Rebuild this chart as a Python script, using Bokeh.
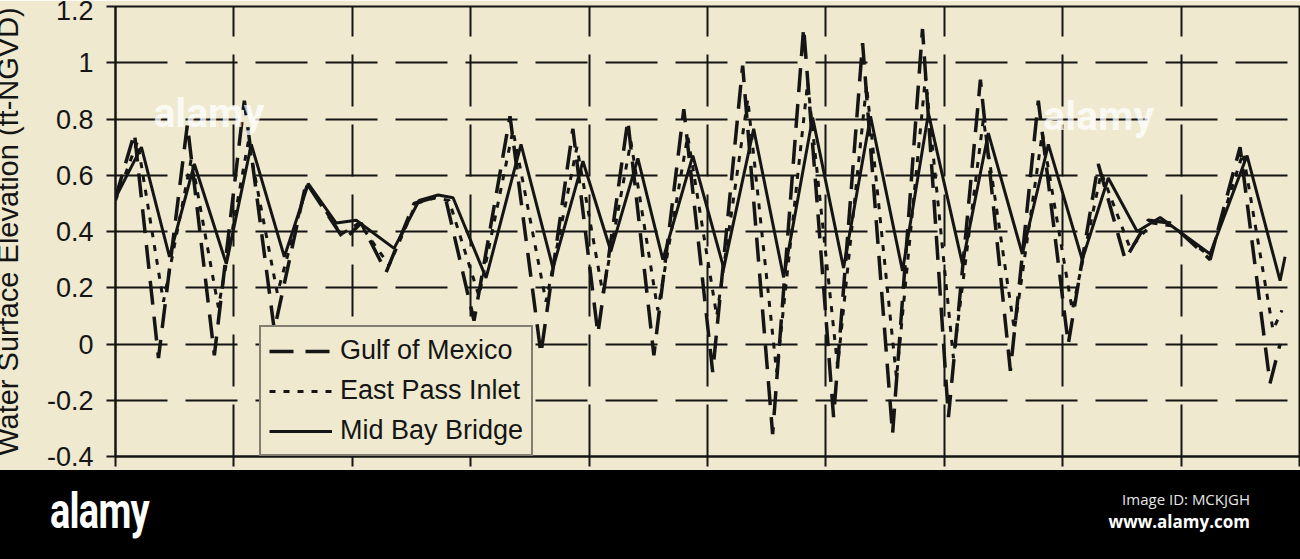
from bokeh.plotting import figure
from bokeh.models import Range1d, FixedTicker, Label, Legend, Div
from bokeh.layouts import column
from bokeh.embed import file_html
from bokeh.resources import INLINE

# ---------------- data (time in days, elevation in ft-NGVD) ----------------
gulf_t = [0.000, 0.160, 0.363, 0.607, 0.835, 1.088, 1.341, 1.611, 1.932, 2.075,
          2.286, 2.522, 2.682, 2.792, 3.028, 3.332, 3.593, 3.863, 4.074, 4.327,
          4.547, 4.800, 5.044, 5.297, 5.550, 5.812, 6.065, 6.310, 6.563, 6.816,
          7.035, 7.305, 7.558, 7.794, 8.047, 8.300, 8.528, 8.722, 8.908, 9.245,
          9.498, 9.751, 9.836]
gulf_v = [0.52, 0.75, -0.05, 0.78, -0.04, 0.865, 0.05, 0.575, 0.37, 0.43,
          0.255, 0.50, 0.52, 0.51, 0.083, 0.81, -0.035, 0.765, 0.037, 0.795,
          -0.04, 0.835, -0.10, 0.99, -0.32, 1.125, -0.26, 1.07, -0.32, 1.12,
          -0.26, 0.94, -0.095, 0.865, 0.0, 0.64, 0.30, 0.44, 0.43, 0.30,
          0.70, -0.14, 0.0]

east_t = [0.000, 0.186, 0.405, 0.641, 0.869, 1.122, 1.367, 1.620, 1.906, 2.058,
          2.311, 2.539, 2.699, 2.817, 3.070, 3.357, 3.636, 3.897, 4.116, 4.353,
          4.580, 4.833, 5.078, 5.340, 5.584, 5.846, 6.099, 6.343, 6.596, 6.841,
          7.077, 7.330, 7.592, 7.828, 8.081, 8.326, 8.570, 8.756, 8.925, 9.245,
          9.523, 9.776, 9.852]
east_v = [0.51, 0.72, 0.15, 0.66, 0.13, 0.72, 0.18, 0.57, 0.39, 0.43,
          0.28, 0.50, 0.52, 0.51, 0.17, 0.76, 0.15, 0.70, 0.18, 0.72,
          0.12, 0.74, 0.10, 0.87, -0.10, 0.93, -0.08, 0.92, -0.12, 0.95,
          -0.05, 0.80, 0.05, 0.75, 0.12, 0.61, 0.34, 0.43, 0.42, 0.31,
          0.68, 0.05, 0.12]

mid_t = [0.000, 0.219, 0.456, 0.666, 0.936, 1.147, 1.426, 1.628, 1.864, 2.033,
         2.353, 2.564, 2.725, 2.851, 3.130, 3.425, 3.695, 3.948, 4.184, 4.412,
         4.623, 4.876, 5.137, 5.390, 5.643, 5.888, 6.149, 6.377, 6.647, 6.866,
         7.153, 7.372, 7.659, 7.879, 8.165, 8.385, 8.629, 8.823, 9.245, 9.557,
         9.836, 9.878]
mid_v = [0.52, 0.70, 0.31, 0.64, 0.285, 0.71, 0.31, 0.57, 0.43, 0.44,
         0.34, 0.51, 0.53, 0.52, 0.235, 0.71, 0.27, 0.65, 0.33, 0.66,
         0.30, 0.67, 0.27, 0.765, 0.237, 0.805, 0.27, 0.81, 0.26, 0.82,
         0.285, 0.75, 0.32, 0.71, 0.30, 0.59, 0.40, 0.45, 0.32, 0.67,
         0.225, 0.31]

series_names = ["Gulf of Mexico", "East Pass Inlet", "Mid Bay Bridge"]
y_ticks = [-0.4, -0.2, 0.0, 0.2, 0.4, 0.6, 0.8, 1.0, 1.2]
y_tick_labels = ["-0.4", "-0.2", "0", "0.2", "0.4", "0.6", "0.8", "1", "1.2"]
x_ticks = [0, 1, 2, 3, 4, 5, 6, 7, 8, 9, 10]
y_title = "Water Surface Elevation (ft-NGVD)"

BG = "#EEE9CF"
INK = "#151515"
FONT = "Liberation Sans"
SHIFT = 12  # the page is drawn slightly to the left so the axis title is cut like the scan

# ---------------- main chart ----------------
p = figure(width=1300 + SHIFT, height=470, x_range=Range1d(0, 10), y_range=Range1d(-0.4, 1.2),
           output_backend="svg", toolbar_location=None,
           min_border_left=114 + SHIFT, min_border_right=1, min_border_top=6, min_border_bottom=14)
p.background_fill_color = BG
p.border_fill_color = BG
p.outline_line_color = INK
p.outline_line_width = 2

# y axis
p.yaxis.ticker = FixedTicker(ticks=y_ticks)
p.yaxis.major_label_overrides = {v: s for v, s in zip(y_ticks, y_tick_labels)}
p.yaxis.major_label_text_font = FONT
p.yaxis.major_label_text_font_size = "27px"
p.yaxis.major_label_text_color = INK
p.yaxis.major_label_standoff = 13
p.yaxis.major_tick_out = 9
p.yaxis.major_tick_in = 0
p.yaxis.minor_tick_out = 0
p.yaxis.minor_tick_in = 0
p.yaxis.axis_line_width = 2
p.yaxis.axis_line_color = INK
p.yaxis.major_tick_line_width = 2
p.yaxis.major_tick_line_color = INK
p.yaxis.axis_label = y_title
p.yaxis.axis_label_text_font = FONT
p.yaxis.axis_label_text_font_size = "29px"
p.yaxis.axis_label_text_font_style = "normal"
p.yaxis.axis_label_text_color = INK
p.yaxis.axis_label_standoff = 20

# x axis (tick labels are outside the scanned area)
p.xaxis.ticker = FixedTicker(ticks=x_ticks)
p.xaxis.major_label_overrides = {t: "" for t in x_ticks}
p.xaxis.major_label_text_font_size = "1px"
p.xaxis.major_label_standoff = 0
p.xaxis.major_tick_out = 10
p.xaxis.major_tick_in = 0
p.xaxis.minor_tick_out = 0
p.xaxis.minor_tick_in = 0
p.xaxis.axis_line_width = 2
p.xaxis.axis_line_color = INK
p.xaxis.major_tick_line_width = 2
p.xaxis.major_tick_line_color = INK

# grids
p.xgrid.ticker = FixedTicker(ticks=x_ticks)
p.ygrid.ticker = FixedTicker(ticks=y_ticks)
p.grid.grid_line_color = INK
p.grid.grid_line_width = 2
p.grid.grid_line_dash = "52 18"
p.grid.grid_line_alpha = 1.0

# series
r_gulf = p.line(gulf_t, gulf_v, line_color=INK, line_width=3.5, line_dash="24 12")
r_east = p.line(east_t, east_v, line_color=INK, line_width=3, line_dash="6 8")
r_mid = p.line(mid_t, mid_v, line_color=INK, line_width=3)

legend = Legend(items=[(series_names[0], [r_gulf]),
                       (series_names[1], [r_east]),
                       (series_names[2], [r_mid])],
                location=(144, 0))
legend.background_fill_color = BG
legend.background_fill_alpha = 1.0
legend.border_line_color = INK
legend.border_line_width = 2
legend.label_text_font = FONT
legend.label_text_font_size = "27px"
legend.label_text_color = INK
legend.glyph_width = 63
legend.glyph_height = 30
legend.label_height = 30
legend.label_standoff = 8
legend.spacing = 9
legend.padding = 8
legend.margin = 0
p.add_layout(legend)

# faint watermarks over the chart
for wx, wy in [(0.32, 0.823), (7.836, 0.812)]:
    p.add_layout(Label(x=wx, y=wy, text="alamy", text_color="white", text_alpha=0.75,
                       text_font="Roboto", text_font_style="bold", text_font_size="41px",
                       text_baseline="alphabetic"))

# ---------------- black credit band ----------------
band_html = (
    '<div style="position:relative;width:%dpx;height:89px;background:#000;overflow:hidden;">'
    '<span style="position:absolute;left:%dpx;top:16px;font-family:Roboto;font-weight:bold;'
    'font-size:50px;line-height:1;color:#fff;letter-spacing:-1px;transform:scaleX(0.76);'
    'transform-origin:0 0;display:inline-block;">alamy</span>'
    '<span style="position:absolute;right:50px;top:22px;font-family:\'Open Sans\';'
    'font-size:15px;line-height:1;color:#e6e6e6;white-space:nowrap;">Image ID: MCKJGH</span>'
    '<span style="position:absolute;right:50px;top:43px;font-family:\'Open Sans\';font-weight:bold;'
    'font-size:17px;line-height:1;color:#fff;white-space:nowrap;">www.alamy.com</span>'
    '</div>'
) % (1300 + SHIFT, 50 + SHIFT)
band = Div(text=band_html, width=1300 + SHIFT, height=89,
           styles={"background-color": "#000", "margin": "0", "padding": "0"})

layout = column(p, band, spacing=0)
layout.styles = {"position": "absolute", "left": "-%dpx" % SHIFT, "top": "0px"}

open("out.html", "w").write(file_html(layout, INLINE))
